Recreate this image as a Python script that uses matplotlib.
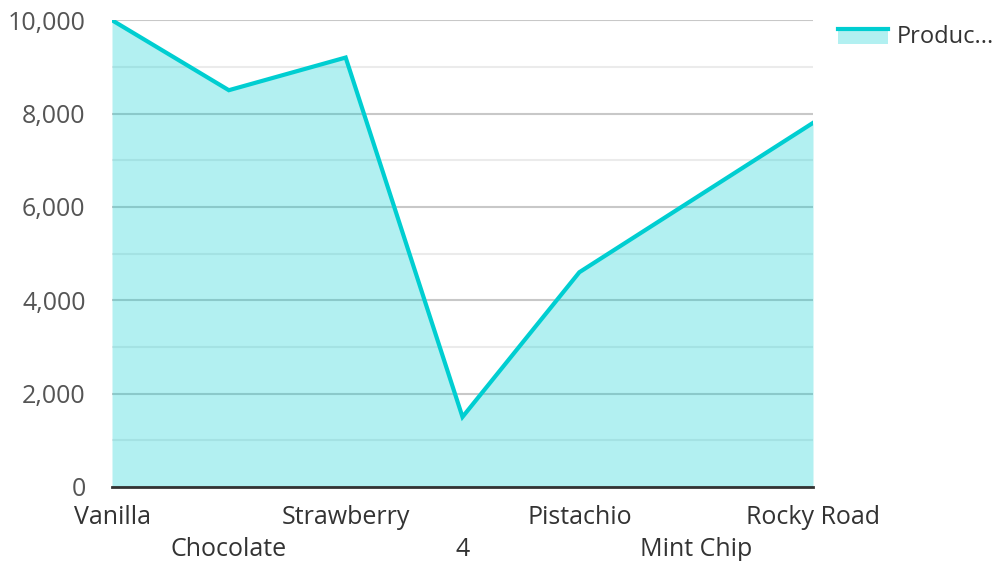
import matplotlib
matplotlib.use("Agg")
import matplotlib.pyplot as plt
from matplotlib.patches import Rectangle
from matplotlib.lines import Line2D
from matplotlib.ticker import MultipleLocator, FuncFormatter

# Veriler
flavors = ["Vanilla", "Chocolate", "Strawberry", "4", "Pistachio", "Mint Chip", "Rocky Road"]
production = [10000, 8500, 9200, 1500, 4600, 6200, 7800]
legend_label = "Produc..."

line_color = "#00CED1"
plt.rcParams["font.family"] = ["Open Sans", "DejaVu Sans"]


class AreaHandler:
    # legend'de dolgu + üst çizgi
    def legend_artist(self, legend, orig_handle, fontsize, handlebox):
        x0, y0 = handlebox.xdescent, handlebox.ydescent
        w, h = handlebox.width, handlebox.height
        tr = handlebox.get_transform()
        rect = Rectangle((x0, y0), w, h, facecolor=line_color, alpha=0.3,
                         edgecolor="none", transform=tr)
        line = Line2D([x0, x0 + w], [y0 + h, y0 + h], color=line_color, lw=3, transform=tr)
        handlebox.add_artist(rect)
        handlebox.add_artist(line)
        return rect


fig = plt.figure(figsize=(10, 5.61), dpi=100)
ax = fig.add_axes([0.112, 0.132, 0.701, 0.832])

x = list(range(len(flavors)))
ax.fill_between(x, production, 0, color=line_color, alpha=0.3, lw=0, zorder=2)
ax.plot(x, production, color=line_color, lw=3, zorder=3, solid_joinstyle="miter")

ax.set_xlim(0, len(flavors) - 1)
ax.set_ylim(0, 10000)

# Izgara
ax.yaxis.set_major_locator(MultipleLocator(2000))
ax.yaxis.set_minor_locator(MultipleLocator(1000))
ax.grid(axis="y", which="major", color="#c8c8c8", lw=1.5, zorder=1)
ax.grid(axis="y", which="minor", color="#ebebeb", lw=1.5, zorder=1)
ax.grid(axis="x", visible=False)
ax.set_axisbelow(True)
ax.yaxis.set_major_formatter(FuncFormatter(lambda v, p: f"{int(v):,}"))

for s in ["top", "right", "left"]:
    ax.spines[s].set_visible(False)
ax.spines["bottom"].set_color("#333333")
ax.spines["bottom"].set_linewidth(2)
ax.spines["bottom"].set_zorder(4)

ax.set_xticks(x)
ax.set_xticklabels(flavors)
ax.tick_params(axis="x", length=0, pad=13, labelsize=18, labelcolor="#333333")
ax.tick_params(axis="y", which="both", length=0, pad=19, labelsize=18, labelcolor="#555555")
for i, t in enumerate(ax.xaxis.get_major_ticks()):
    if i % 2 == 1:
        t.set_pad(36)

# Legend
h = Rectangle((0, 0), 1, 1)
fig.legend([h], [legend_label], handler_map={Rectangle: AreaHandler()},
           loc="upper left", bbox_to_anchor=(0.824, 0.98), frameon=False,
           fontsize=17, handlelength=2.1, handleheight=0.6, handletextpad=0.4,
           borderaxespad=0.2, labelcolor="#333333")

fig.savefig("out.png", dpi=100)
